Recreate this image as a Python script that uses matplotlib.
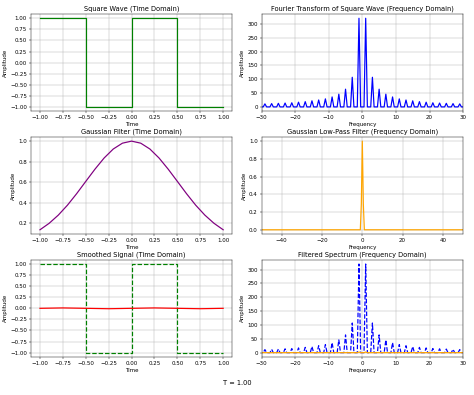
import matplotlib
matplotlib.use("Agg")
import matplotlib.pyplot as plt
from matplotlib.ticker import MultipleLocator
import numpy as np

# ---- data ----
# square wave breakpoints (time, amplitude)
square_t = [-1.0, -0.5, -0.5, 0.0, 0.0, 0.5, 0.5, 1.0]
square_y = [1.0, 1.0, -1.0, -1.0, 1.0, 1.0, -1.0, -1.0]

# spectrum peaks at odd harmonics (Hz) and their amplitudes
peak_freqs = [1, 3, 5, 7, 9, 11, 13, 15, 17, 19, 21, 23, 25, 27, 29]
peak_amps = [320, 107, 64, 46, 36, 29, 25, 22, 19, 17, 15, 14, 13, 12, 11]

# gaussian filter in time domain
gauss_t = [-1.0, -0.9, -0.8, -0.7, -0.6, -0.5, -0.4, -0.3, -0.2, -0.1, 0.0,
           0.1, 0.2, 0.3, 0.4, 0.5, 0.6, 0.7, 0.8, 0.9, 1.0]
gauss_y = [0.135, 0.198, 0.278, 0.375, 0.487, 0.607, 0.726, 0.835, 0.923, 0.980, 1.0,
           0.980, 0.923, 0.835, 0.726, 0.607, 0.487, 0.375, 0.278, 0.198, 0.135]

# gaussian low-pass filter in frequency domain
lpf_f = [-60, -1.0, -0.5, 0.0, 0.5, 1.0, 60]
lpf_y = [0.0, 0.0, 0.29, 1.0, 0.29, 0.0, 0.0]

# filtered spectrum (spectrum x filter)
filt_f = [-60, -1.5, -1.0, -0.5, 0.5, 1.0, 1.5, 60]
filt_y = [0.0, 0.0, 2.3, 0.0, 0.0, 2.3, 0.0, 0.0]

# smoothed signal
smooth_t = [-1.0, -0.75, -0.5, -0.25, 0.0, 0.25, 0.5, 0.75, 1.0]
smooth_y = [0.0, 0.009, 0.0, -0.009, 0.0, 0.009, 0.0, -0.009, 0.0]

T_value = 1.00

# build spectrum line (triangular peaks, zero half a Hz either side)
spec_f = [-31.0]
spec_y = [0.0]
for f, a in sorted(list(zip([-p for p in peak_freqs], peak_amps)) + list(zip(peak_freqs, peak_amps))):
    spec_f += [f - 0.5, f, f + 0.5]
    spec_y += [0.0, a, 0.0]
spec_f.append(31.0)
spec_y.append(0.0)

LW = 2.2

fig, axes = plt.subplots(3, 2, figsize=(12, 10), dpi=39.5)
fig.subplots_adjust(left=0.065, right=0.977, top=0.965, bottom=0.096,
                    wspace=0.145, hspace=0.26)

ax = axes[0, 0]
ax.plot(square_t, square_y, color='g', lw=LW)
ax.set_title('Square Wave (Time Domain)')
ax.set_xlabel('Time')
ax.set_ylabel('Amplitude')
ax.yaxis.set_major_locator(MultipleLocator(0.25))
ax.grid(True)

ax = axes[0, 1]
ax.plot(spec_f, spec_y, color='b', lw=LW)
ax.set_xlim(-30, 30)
ax.set_title('Fourier Transform of Square Wave (Frequency Domain)')
ax.set_xlabel('Frequency')
ax.set_ylabel('Amplitude')
ax.grid(True)

ax = axes[1, 0]
ax.plot(gauss_t, gauss_y, color='purple', lw=LW)
ax.set_title('Gaussian Filter (Time Domain)')
ax.set_xlabel('Time')
ax.set_ylabel('Amplitude')
ax.grid(True)

ax = axes[1, 1]
ax.plot(lpf_f, lpf_y, color='orange', lw=LW)
ax.set_xlim(-50, 50)
ax.set_ylim(-0.05, 1.05)
ax.set_title('Gaussian Low-Pass Filter (Frequency Domain)')
ax.set_xlabel('Frequency')
ax.set_ylabel('Amplitude')
ax.grid(True)

ax = axes[2, 0]
ax.plot(square_t, square_y, color='g', linestyle='--', lw=LW)
ax.plot(smooth_t, smooth_y, color='r', lw=LW)
ax.set_title('Smoothed Signal (Time Domain)')
ax.set_xlabel('Time')
ax.set_ylabel('Amplitude')
ax.yaxis.set_major_locator(MultipleLocator(0.25))
ax.grid(True)

ax = axes[2, 1]
ax.plot(spec_f, spec_y, color='b', linestyle='--', lw=LW)
ax.plot(filt_f, filt_y, color='orange', lw=LW)
ax.set_xlim(-30, 30)
ax.set_title('Filtered Spectrum (Frequency Domain)')
ax.set_xlabel('Frequency')
ax.set_ylabel('Amplitude')
ax.grid(True)

fig.text(0.5, 0.03, f'T = {T_value:.2f}', ha='center', va='center', fontsize=12)

fig.savefig('out.png', dpi=39.5)
